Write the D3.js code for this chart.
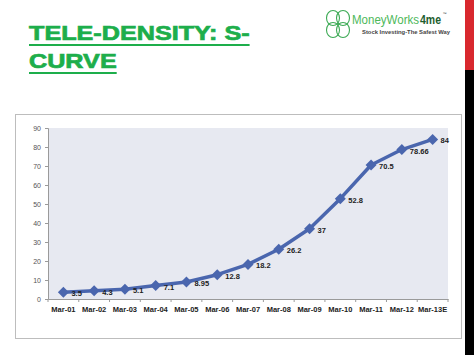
<!DOCTYPE html>
<html><head><meta charset="utf-8">
<script src="https://cdn.jsdelivr.net/npm/d3@7"></script>
<style>body{margin:0;background:#fff;}svg{display:block;font-family:"Liberation Sans",Arial,sans-serif;}</style>
</head><body>
<svg id="c" width="474" height="355"></svg>
<script>
const categories = ["Mar-01","Mar-02","Mar-03","Mar-04","Mar-05","Mar-06","Mar-07","Mar-08","Mar-09","Mar-10","Mar-11","Mar-12","Mar-13E"];
const teleDensity = [3.5,4.3,5.1,7.1,8.95,12.8,18.2,26.2,37,52.8,70.5,78.66,84];
const valueLabels = ["3.5","4.3","5.1","7.1","8.95","12.8","18.2","26.2","37","52.8","70.5","78.66","84"];
const yTicks = [0,10,20,30,40,50,60,70,80,90];
const titleLines = ["TELE-DENSITY: S-","CURVE"];

const svg = d3.select("#c");
// right stripe
svg.append("rect").attr("x",465).attr("y",0).attr("width",9).attr("height",355).attr("fill","#000");
svg.append("rect").attr("x",465).attr("y",0).attr("width",9).attr("height",70).attr("fill","#D8282E");

// title
const green = "#1DAE4B";
titleLines.forEach((t,i)=>{
  const y = 40 + i*28;
  const tx = svg.append("text").attr("transform",`translate(29,${y}) scale(1.26,1)`)
    .attr("font-size",20).attr("font-weight","bold").attr("fill",green)
    .attr("stroke",green).attr("stroke-width",0.7).text(t);
  const w = tx.node().getComputedTextLength()*1.26;
  svg.append("rect").attr("x",29).attr("y",y+4).attr("width",w).attr("height",2).attr("fill",green);
});

// logo
const lg = svg.append("g").attr("fill","none").attr("stroke","#3DAA55").attr("stroke-width",1.1);
[[333,18],[343,18],[333,30],[343,30]].forEach(([cx,cy])=>{
  lg.append("ellipse").attr("cx",cx).attr("cy",cy).attr("rx",6.5).attr("ry",7.5);
});
svg.append("text").attr("x",352).attr("y",23.5).attr("font-size",12).attr("fill","#4DB85A")
  .attr("textLength",67).attr("lengthAdjust","spacingAndGlyphs").text("MoneyWorks");
svg.append("text").attr("x",420).attr("y",23.5).attr("font-size",12).attr("font-weight","bold").attr("fill","#1E5E2E")
  .attr("textLength",21).attr("lengthAdjust","spacingAndGlyphs").text("4me");
svg.append("text").attr("x",442.5).attr("y",15).attr("font-size",4).attr("fill","#333").text("™");
svg.append("text").attr("x",362).attr("y",33.5).attr("font-size",5).attr("font-weight","bold").attr("fill","#444")
  .attr("textLength",88).attr("lengthAdjust","spacingAndGlyphs").text("Stock Investing-The Safest Way");

// chart frame
svg.append("rect").attr("x",15.5).attr("y",114.5).attr("width",446).attr("height",224).attr("fill","#fff").attr("stroke","#BDBDBD").attr("stroke-width",1);

const pl = 48, pt = 128, pw = 400, ph = 171;
svg.append("rect").attr("x",pl).attr("y",pt).attr("width",pw).attr("height",ph).attr("fill","#E7E9F1");

const x = d3.scaleBand().domain(categories).range([pl,pl+pw]);
const y = d3.scaleLinear().domain([0,90]).range([pt+ph,pt]);

const ya = svg.append("g").attr("transform",`translate(${pl},0)`)
  .call(d3.axisLeft(y).tickValues(yTicks).tickSize(3).tickPadding(4).tickFormat(d3.format("d")));
ya.select(".domain").attr("stroke","#9A9A9A");
ya.selectAll(".tick line").attr("stroke","#9A9A9A");
ya.selectAll("text").attr("font-size",7).attr("fill","#555").attr("font-family","Liberation Sans, Arial, sans-serif");

const xa = svg.append("g").attr("transform",`translate(0,${pt+ph})`)
  .call(d3.axisBottom(x).tickSize(0).tickPadding(8));
xa.select(".domain").attr("stroke","#9A9A9A");
xa.selectAll("text").attr("font-size",7.5).attr("font-weight","bold").attr("fill","#222").attr("font-family","Liberation Sans, Arial, sans-serif");
// tick marks at category boundaries
const bounds = categories.map(c=>x(c)).concat([pl+pw]);
xa.selectAll("line.bt").data(bounds).enter().append("line").attr("class","bt")
  .attr("x1",d=>d).attr("x2",d=>d).attr("y1",0).attr("y2",3).attr("stroke","#9A9A9A");

const cx = d => x(d) + x.bandwidth()/2;
const pts = categories.map((c,i)=>({c, v: teleDensity[i], l: valueLabels[i]}));
const blue = "#4A66AE";
svg.append("path").datum(pts)
  .attr("d", d3.line().x(d=>cx(d.c)).y(d=>y(d.v)))
  .attr("fill","none").attr("stroke",blue).attr("stroke-width",3.5).attr("stroke-linejoin","round");
svg.selectAll("path.m").data(pts).enter().append("path").attr("class","m")
  .attr("transform",d=>`translate(${cx(d.c)},${y(d.v)})`)
  .attr("d","M0,-5.5L5.5,0L0,5.5L-5.5,0Z").attr("fill",blue);
svg.selectAll("text.dl").data(pts).enter().append("text").attr("class","dl")
  .attr("x",d=>cx(d.c)+8).attr("y",d=>y(d.v)+4)
  .attr("font-size",7.5).attr("font-weight","bold").attr("fill","#222").text(d=>d.l);
</script>
</body></html>
